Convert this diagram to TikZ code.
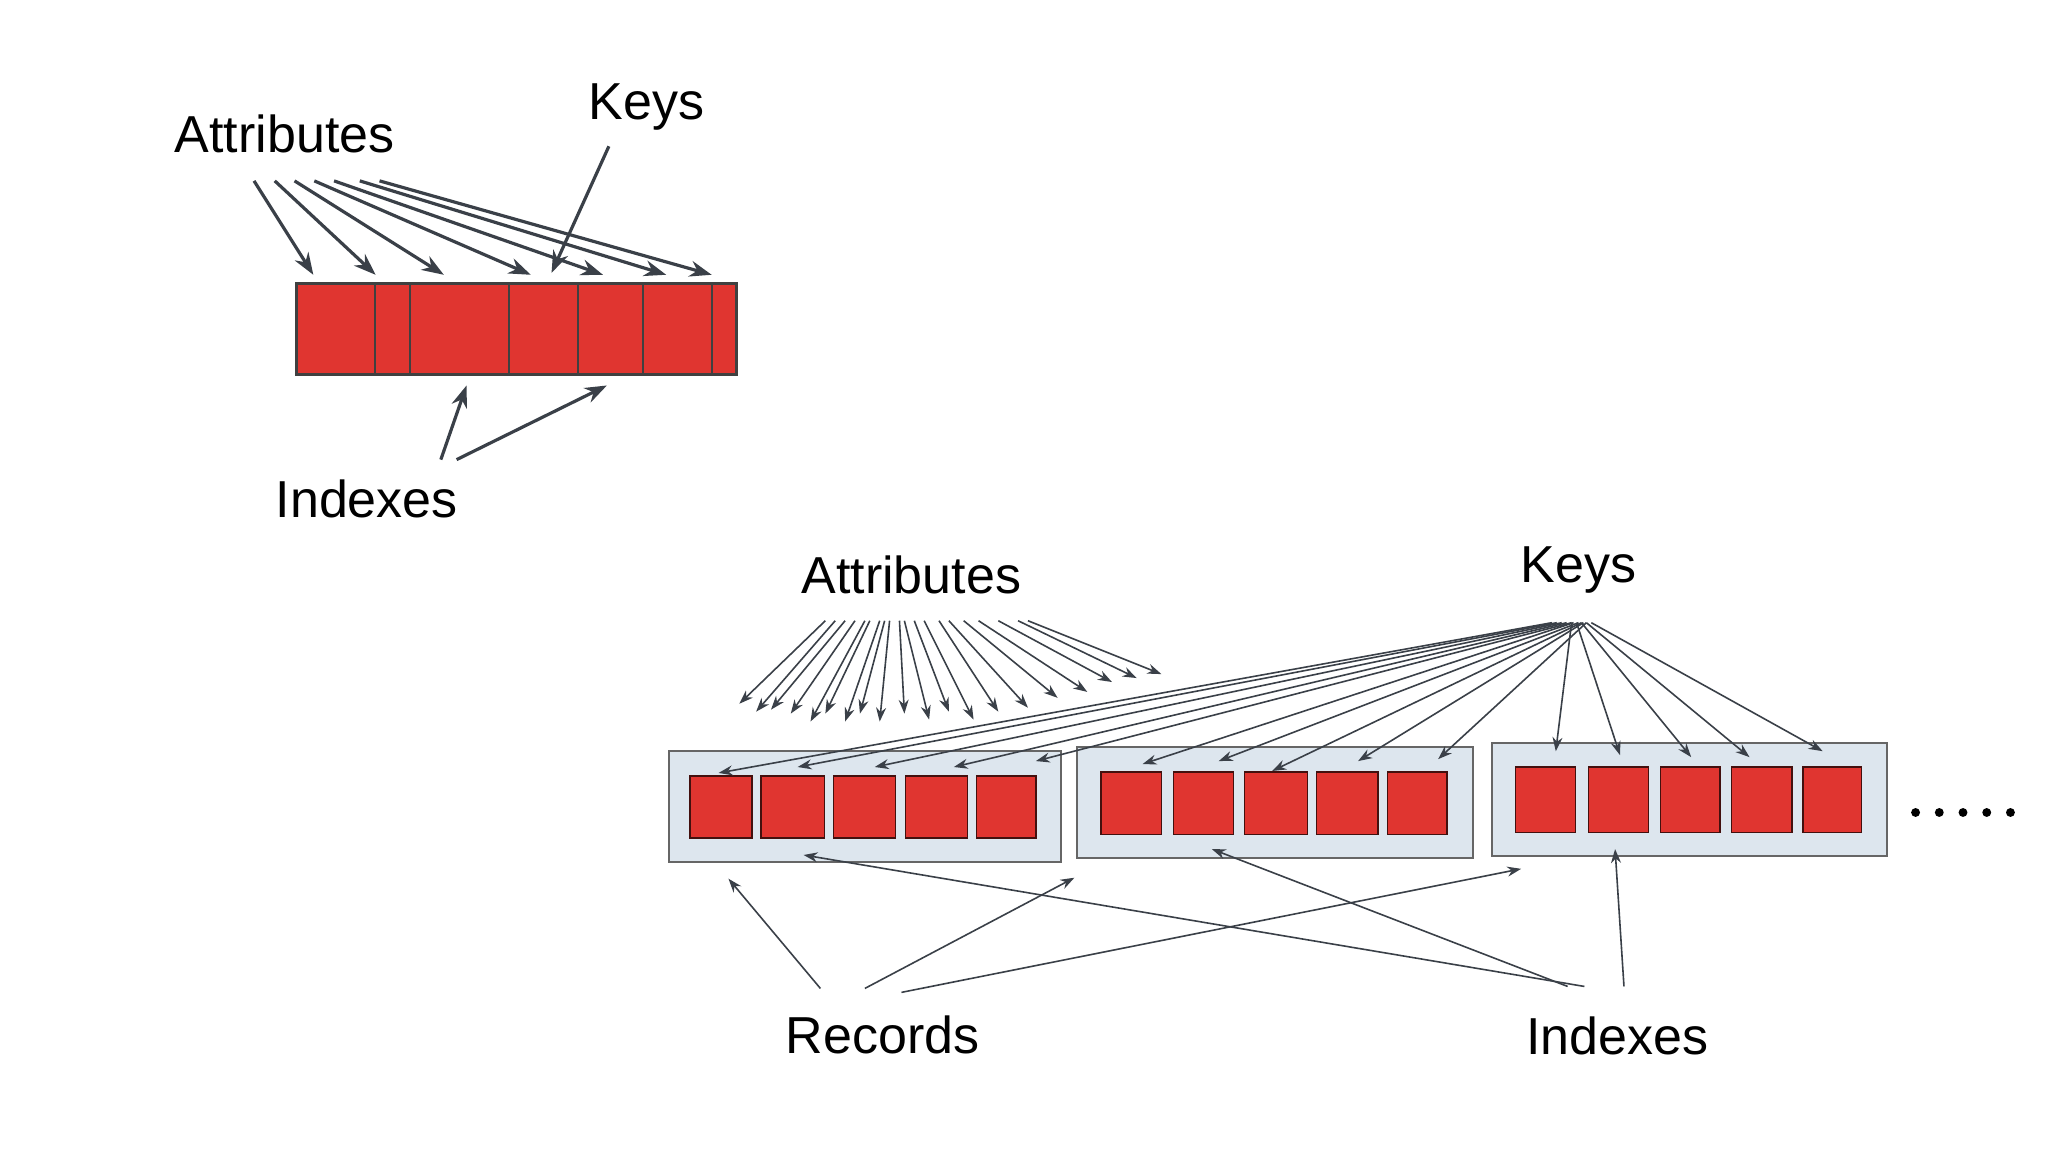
\documentclass[tikz,border=0pt]{standalone}
\usepackage{fontspec}
\setmainfont{Liberation Sans}
\usetikzlibrary{arrows.meta}
\definecolor{rd}{HTML}{E03530}
\definecolor{ar}{HTML}{3A4048}
\definecolor{bx}{HTML}{DDE6EE}
\tikzset{
 lbl/.style={font=\fontsize{26}{29}\selectfont,inner sep=0pt},
 arr/.style={draw=ar,line width=1.6pt,-{Stealth[length=11pt,width=8pt]}},
 thin/.style={draw=ar,line width=0.8pt,-{Stealth[length=7pt,width=5pt]}},
 cell/.style={fill=rd,draw=black!70!rd,line width=0.7pt},
 grp/.style={fill=bx,draw=gray!80!black,line width=1pt},
}
\begin{document}
\begin{tikzpicture}[x=0.4943pt,y=-0.4943pt]
\useasboundingbox (0,0) rectangle (2072,1165);
% ---- top single record
\fill[rd] (300,287) rectangle (745,379);
\draw[black!75,line width=1.2pt] (300,287) rectangle (745,379);
\foreach \x in {379,415,515,585,651,720}{\draw[black!75,line width=1pt] (\x,287)--(\x,379);}
\node[lbl] (a1) at (288,135) {Attributes};
\node[lbl] (k1) at (654,108) {Keys};
\node[lbl] (i1) at (371,505) {Indexes};
\foreach \sx/\ex in {257/317,278/380,298/449,318/537,338/610,364/674,384/720}{
 \draw[arr] (\sx,183) -- (\ex,278);}
\draw[arr] (616,148) -- (558,276);
\draw[arr] (446,465) -- (472,390);
\draw[arr] (462,465) -- (614,390);
% ---- bottom
\node[lbl] (a2) at (922,582) {Attributes};
\node[lbl] (k2) at (1597,577) {Keys};
\node[lbl] (r2) at (893,1047) {Records};
\node[lbl] (i2) at (1636,1048) {Indexes};
\draw[grp] (677,760) rectangle (1073,872);
\draw[grp] (1090,756) rectangle (1490,868);
\draw[grp] (1509,752) rectangle (1909,866);
\foreach \a/\b in {698/761,770/834,843/906,916/979,988/1048}{\draw[cell] (\a,785) rectangle (\b,848);}
\foreach \a/\b in {1114/1175,1187/1248,1259/1323,1332/1394,1404/1464}{\draw[cell] (\a,781) rectangle (\b,844);}
\foreach \a/\b in {1533/1594,1607/1668,1680/1740,1752/1813,1824/1883}{\draw[cell] (\a,776) rectangle (\b,842);}
\foreach \x in {1938,1962,1986,2010,2034}{\fill (\x,822) circle (4.5);}
% attribute arrows
\foreach \sx/\ex/\ey in {835/748/712,845/765/720,855/780/718,865/800/722,875/820/730,880/835/722,890/855/730,895/870/722,900/890/730,910/915/722,915/940/728,925/960/720,935/985/728,950/1010/720,960/1040/716,975/1070/706,990/1100/700,1010/1125/690,1030/1150/686,1040/1175/682}{
 \draw[thin] (\sx,628) -- (\ex,\ey);}
% key arrows
\foreach \sx/\ex/\ey in {1570/727/782,1575/807/776,1580/885/776,1585/965/776,1590/1048/770,1592/1156/773,1597/1233/770,1600/1287/780,1602/1374/770,1605/1455/768,1590/1574/760,1595/1639/764,1600/1711/766,1605/1770/766,1610/1844/760}{
 \draw[thin] (\sx,630) -- (\ex,\ey);}
% records arrows
\draw[thin] (830,1000) -- (737,889);
\draw[thin] (875,1000) -- (1087,888);
\draw[thin] (912,1004) -- (1539,879);
% indexes arrows
\draw[thin] (1603,998) -- (813,865);
\draw[thin] (1586,998) -- (1226,859);
\draw[thin] (1643,998) -- (1634,859);
\end{tikzpicture}
\end{document}
